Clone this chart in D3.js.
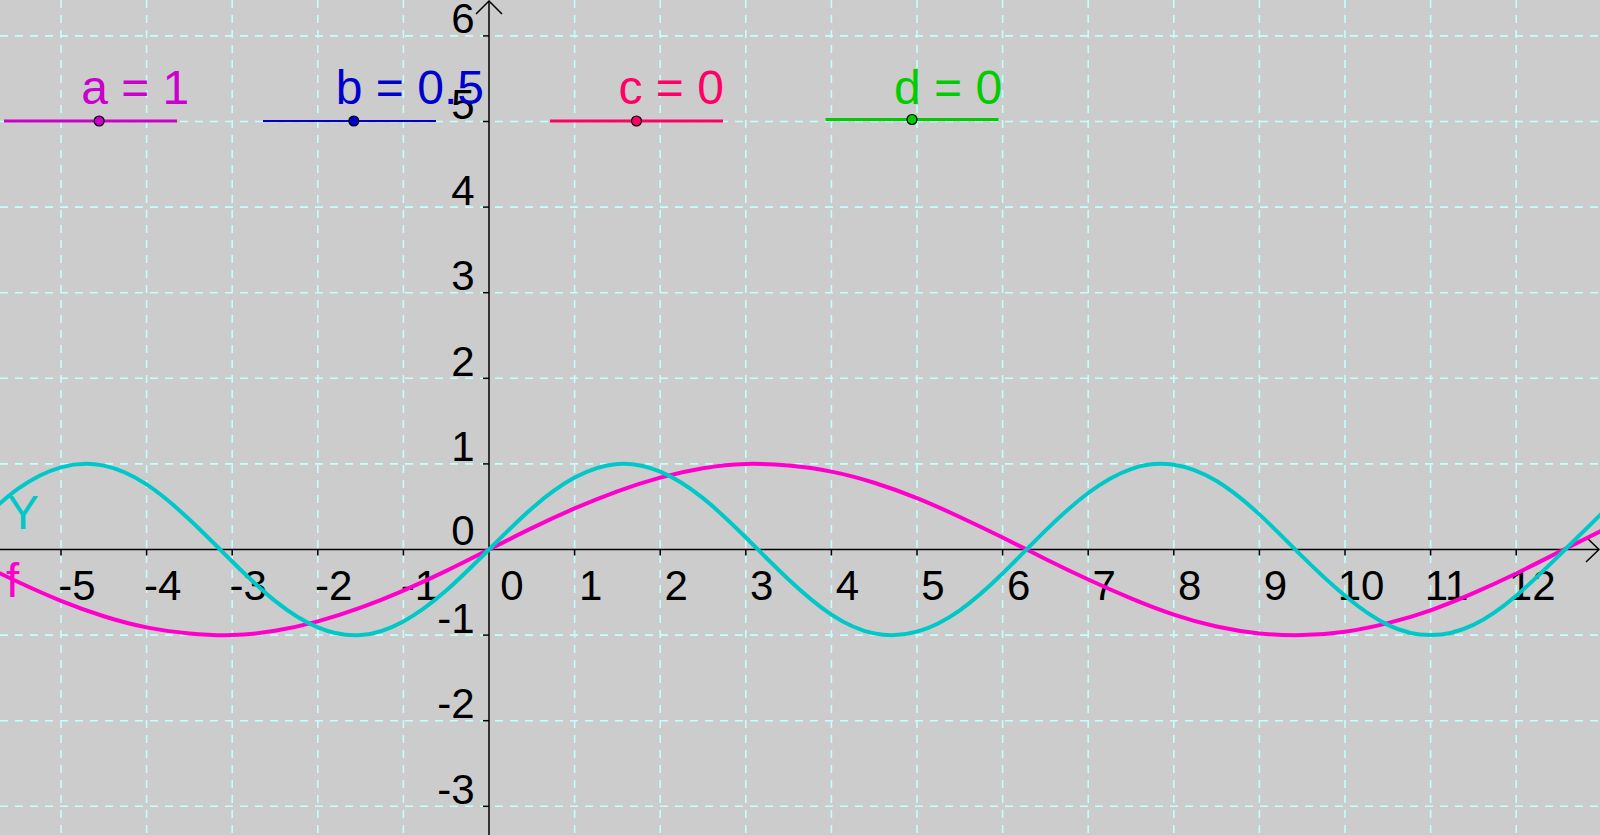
<!DOCTYPE html>
<html>
<head>
<meta charset="utf-8">
<script src="https://cdn.jsdelivr.net/npm/d3@7"></script>
<style>
  html, body { margin: 0; padding: 0; background: #cccccc; overflow: hidden; }
  svg { display: block; }
  text { font-family: "Liberation Sans", Arial, sans-serif; }
</style>
</head>
<body>
<svg id="chart" width="1600" height="835"></svg>
<script>
// ---------- data ----------
const sampleX = [-6, -5.5, -5, -4.5, -4, -3.5, -3, -2.5, -2, -1.5, -1, -0.5, 0, 0.5, 1, 1.5, 2, 2.5, 3, 3.5, 4, 4.5, 5, 5.5, 6, 6.5, 7, 7.5, 8, 8.5, 9, 9.5, 10, 10.5, 11, 11.5, 12, 12.5, 13];
// curve f (magenta)
const fValues = [-0.14, -0.38, -0.60, -0.78, -0.91, -0.98, -1.00, -0.95, -0.84, -0.68, -0.48, -0.25, 0, 0.25, 0.48, 0.68, 0.84, 0.95, 1.00, 0.98, 0.91, 0.78, 0.60, 0.38, 0.14, -0.11, -0.35, -0.57, -0.76, -0.90, -0.98, -1.00, -0.96, -0.86, -0.71, -0.51, -0.28, -0.03, 0.22];
// curve Y (cyan)
const yValues = [0.28, 0.71, 0.96, 0.98, 0.76, 0.35, -0.14, -0.60, -0.91, -1.00, -0.84, -0.48, 0, 0.48, 0.84, 1.00, 0.91, 0.60, 0.14, -0.35, -0.76, -0.98, -0.96, -0.71, -0.28, 0.22, 0.66, 0.94, 0.99, 0.80, 0.41, -0.08, -0.54, -0.88, -1.00, -0.88, -0.54, -0.07, 0.42];

const xTickValues = [-5, -4, -3, -2, -1, 0, 1, 2, 3, 4, 5, 6, 7, 8, 9, 10, 11, 12];
const yTickValues = [-3, -2, -1, 0, 1, 2, 3, 4, 5, 6];

const sliderNames  = ["a", "b", "c", "d"];
const sliderValues = [1, 0.5, 0, 0];
const sliderMin = -10, sliderMax = 10;

// ---------- layout ----------
const W = 1600, H = 835;
const unit = 85.6;
const ox = 489, oy = 549.5;
const sliderStartX = [4, 263, 550, 825.5];
const sliderY = [121, 121, 121, 119.5];
const sliderLen = 173;
const sliderColors = ["#cc00cc", "#0000cc", "#ff0066", "#00cc00"];
const sliderWidths = [3, 2, 3, 3];

const gridColor = "#c4ffff";
const fColor = "#ff00cc";
const yColor = "#00c8c8";

const x = d3.scaleLinear().domain([0, 1]).range([ox, ox + unit]);
const y = d3.scaleLinear().domain([0, 1]).range([oy, oy - unit]);

const svg = d3.select("#chart");
svg.append("rect").attr("width", W).attr("height", H).attr("fill", "#cccccc");

svg.append("defs").append("clipPath").attr("id", "clip")
  .append("rect").attr("width", W).attr("height", H);

// ---------- grid ----------
const grid = svg.append("g").attr("stroke", gridColor).attr("stroke-width", 1.6)
  .attr("stroke-dasharray", "8,7");
grid.selectAll("line.v").data(xTickValues.filter(v => v !== 0)).join("line")
  .attr("class", "v")
  .attr("x1", d => x(d)).attr("x2", d => x(d))
  .attr("y1", 0).attr("y2", H);
grid.selectAll("line.h").data(yTickValues.filter(v => v !== 0)).join("line")
  .attr("class", "h")
  .attr("y1", d => y(d)).attr("y2", d => y(d))
  .attr("x1", 0).attr("x2", W);

// ---------- axes ----------
const axes = svg.append("g").attr("stroke", "#000").attr("stroke-width", 1.5).attr("fill", "none");
axes.append("line").attr("x1", 0).attr("x2", W - 1).attr("y1", oy).attr("y2", oy);
axes.append("line").attr("x1", ox).attr("x2", ox).attr("y1", H).attr("y2", 1);
// arrows
axes.append("path").attr("d", `M${W - 14},${oy - 12.5} L${W - 1},${oy} L${W - 14},${oy + 12.5}`);
axes.append("path").attr("d", `M${ox - 13},${14} L${ox},${1} L${ox + 13},${14}`);
// ticks
axes.selectAll("line.xt").data(xTickValues.filter(v => v !== 0)).join("line")
  .attr("class", "xt")
  .attr("x1", d => x(d)).attr("x2", d => x(d))
  .attr("y1", oy).attr("y2", oy + 6);
axes.selectAll("line.yt").data(yTickValues.filter(v => v !== 0)).join("line")
  .attr("class", "yt")
  .attr("x1", ox - 6).attr("x2", ox)
  .attr("y1", d => y(d)).attr("y2", d => y(d));

// tick labels
const lab = svg.append("g").attr("fill", "#000").attr("font-size", 42);
lab.selectAll("text.xl").data(xTickValues).join("text")
  .attr("class", "xl")
  .attr("text-anchor", "middle")
  .attr("x", d => d === 0 ? x(d) + 23 : x(d) + 16)
  .attr("y", oy + 50.5)
  .text(d => d);
lab.selectAll("text.yl").data(yTickValues).join("text")
  .attr("class", "yl")
  .attr("text-anchor", "end")
  .attr("x", ox - 14.5)
  .attr("y", d => d === 0 ? y(d) - 4.5 : y(d) - 2.5)
  .text(d => d);

// ---------- curves ----------
const line = d3.line().x(d => x(d[0])).y(d => y(d[1])).curve(d3.curveNatural);
const curves = svg.append("g").attr("clip-path", "url(#clip)").attr("fill", "none")
  .attr("stroke-width", 4).attr("stroke-linejoin", "round").attr("stroke-linecap", "round");
curves.append("path").datum(sampleX.map((v, i) => [v, fValues[i]]))
  .attr("stroke", fColor).attr("d", line);
curves.append("path").datum(sampleX.map((v, i) => [v, yValues[i]]))
  .attr("stroke", yColor).attr("d", line);

// curve labels
svg.append("text").attr("x", 7).attr("y", 529).attr("font-size", 48).attr("fill", yColor).text("Y");
svg.append("text").attr("x", 6).attr("y", 597).attr("font-size", 48).attr("fill", fColor).text("f");

// ---------- sliders ----------
sliderNames.forEach((name, i) => {
  const sx = d3.scaleLinear().domain([sliderMin, sliderMax]).range([sliderStartX[i], sliderStartX[i] + sliderLen]);
  const g = svg.append("g");
  g.append("line")
    .attr("x1", sx(sliderMin)).attr("x2", sx(sliderMax))
    .attr("y1", sliderY[i]).attr("y2", sliderY[i])
    .attr("stroke", sliderColors[i]).attr("stroke-width", sliderWidths[i]);
  const px = sx(sliderValues[i]);
  g.append("circle").attr("cx", px).attr("cy", sliderY[i]).attr("r", 5)
    .attr("fill", sliderColors[i]).attr("stroke", "#000").attr("stroke-width", 1.2);
  g.append("text").attr("x", px - 18).attr("y", 103.5)
    .attr("font-size", 48).attr("fill", sliderColors[i])
    .text(`${name} = ${sliderValues[i]}`);
});
</script>
</body>
</html>
